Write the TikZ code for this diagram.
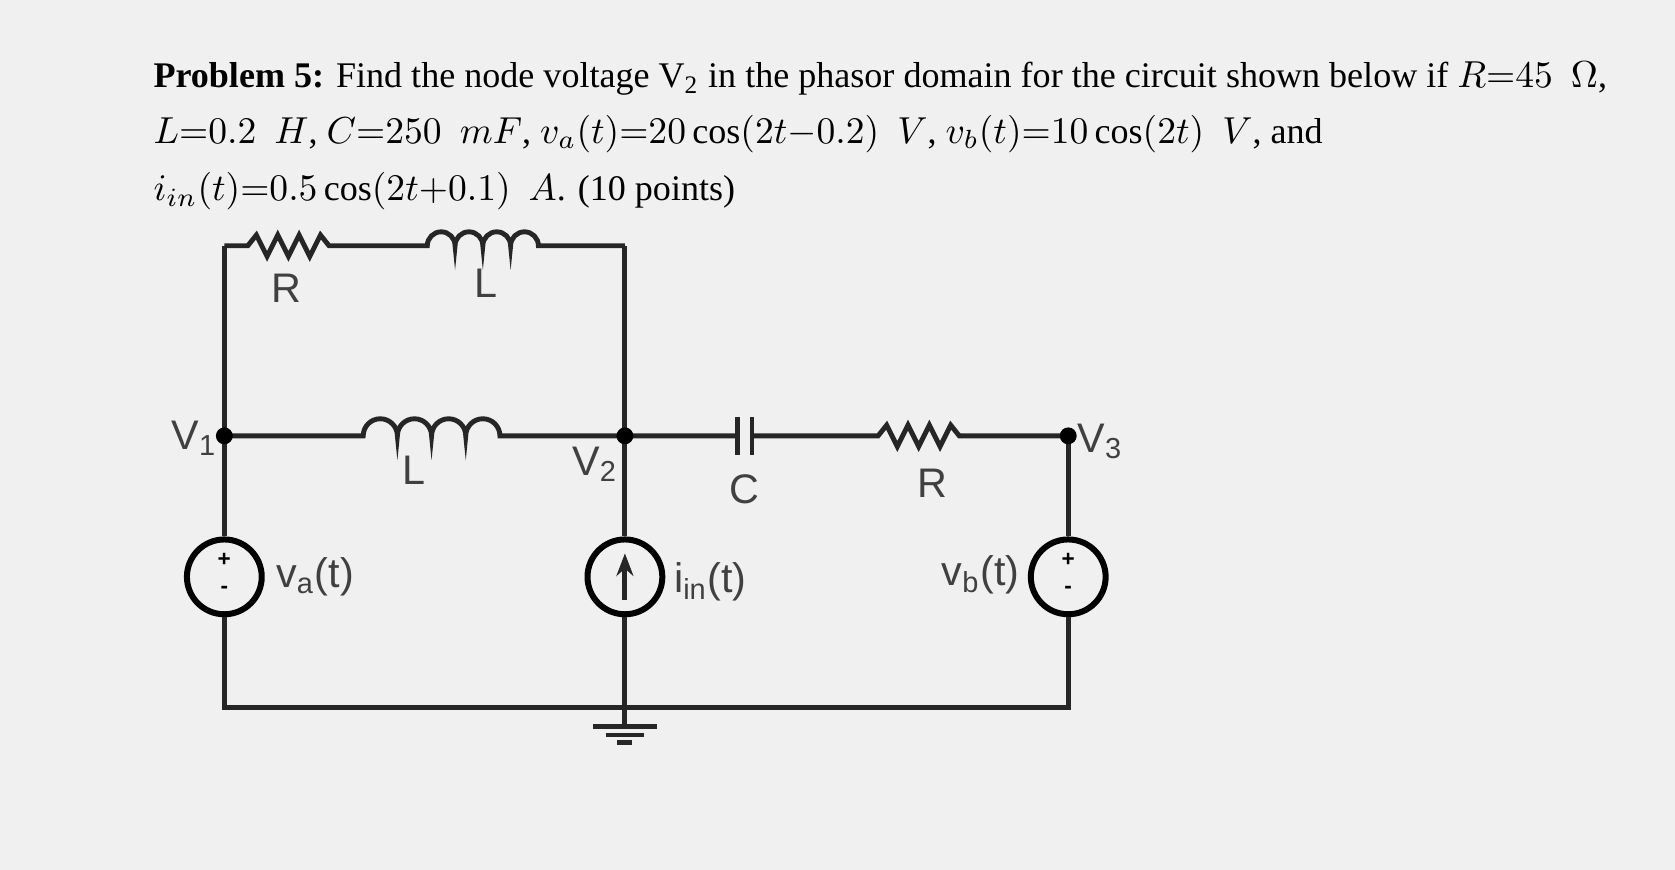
\documentclass[tikz,border=0pt]{standalone}
\usepackage{fontspec}
\usetikzlibrary{arrows.meta}
\setmainfont{Liberation Serif}
\newfontfamily\cf{Liberation Sans}
\begin{document}
\begin{tikzpicture}[x=0.01cm,y=-0.01cm,
  wire/.style={line width=1.3pt,black!85},
  lbl/.style={font=\cf\fontsize{11}{12}\selectfont,text=black!75},
  src/.style={circle,draw,line width=1.6pt,minimum size=0.7cm,inner sep=0},
  dot/.style={circle,fill=black,minimum size=4.5pt,inner sep=0},
  ttl/.style={anchor=base west,font=\fontsize{9.6}{12}\selectfont,inner sep=0}]
\fill[gray!12] (0,0) rectangle (1568,814);
\useasboundingbox (0,0) rectangle (1568,814);
% text
\node[ttl] (t1) at (143,82) {\textbf{Problem 5:} Find the node voltage V\textsubscript{2} in the phasor domain for the circuit shown below if $R{=}45\ \ \Omega$,};
\node[ttl] (t2) at (143,134) {$L{=}0.2\ \ H$, $C{=}250\ \ mF$, $v_a(t){=}20\cos(2t{-}0.2)\ \ V$, $v_b(t){=}10\cos(2t)\ \ V$, and};
\node[ttl] (t3) at (143,188) {$i_{in}(t){=}0.5\cos(2t{+}0.1)\ \ A$. (10 points)};
% coordinates
\coordinate (tl) at (210,230); \coordinate (tm) at (585,230);
\coordinate (v1) at (210,408); \coordinate (v2) at (585,408); \coordinate (v3) at (1000,408);
\coordinate (bl) at (210,662); \coordinate (bm) at (585,662); \coordinate (br) at (1000,662);
\coordinate (gnd) at (585,680);
\node[src] (sa) at (210,540) {};
\node[src] (si) at (585,540) {};
\node[src] (sb) at (1000,540) {};
% top branch
\draw[wire] (tl) -- (232,230) -- (240,220) -- (250,240) -- (260,220) -- (270,240) -- (280,220) -- (290,240) -- (300,220) -- (308,230) -- (400,230)
  arc[start angle=180,end angle=360,radius=13] arc[start angle=180,end angle=360,radius=13] arc[start angle=180,end angle=360,radius=13] arc[start angle=180,end angle=360,radius=13] -- (tm);
\draw[wire] (tl) -- (v1) -- (sa.north);
\draw[wire] (sa.south) -- (bl) -- (bm) -- (br) -- (sb.south);
\draw[wire] (sb.north) -- (v3);
\draw[wire] (tm) -- (v2) -- (si.north);
\draw[wire] (si.south) -- (bm) -- (gnd);
\draw[wire] (555,680) -- (615,680) (567,688) -- (603,688) (578,695) -- (592,695);
% middle branch
\draw[wire] (v1) -- (340,408) arc[start angle=180,end angle=360,radius=16] arc[start angle=180,end angle=360,radius=16] arc[start angle=180,end angle=360,radius=16] arc[start angle=180,end angle=360,radius=16] -- (v2) -- (690,408);
\draw[wire] (690,390) -- (690,426) (704,390) -- (704,426);
\draw[wire] (704,408) -- (822,408) -- (830,398) -- (840,418) -- (850,398) -- (860,418) -- (870,398) -- (880,418) -- (890,398) -- (898,408) -- (v3);
\node[dot] at (v1) {}; \node[dot] at (v2) {}; \node[dot] at (v3) {};
% source marks
\node[font=\cf\bfseries\fontsize{6}{7}\selectfont,inner sep=0] at (210,524) {+};
\node[font=\cf\bfseries\fontsize{6}{7}\selectfont,inner sep=0] at (210,552) {-};
\node[font=\cf\bfseries\fontsize{6}{7}\selectfont,inner sep=0] at (1000,524) {+};
\node[font=\cf\bfseries\fontsize{6}{7}\selectfont,inner sep=0] at (1000,552) {-};
\draw[wire,-{Stealth[length=6pt]}] (585,562) -- (585,518);
% labels
\node[lbl] (lR1) at (268,270) {R};
\node[lbl] (lL1) at (455,265) {L};
\node[lbl] (lV1) at (182,410) {V\textsubscript{1}};
\node[lbl] (lL2) at (388,440) {L};
\node[lbl] (lV2) at (557,435) {V\textsubscript{2}};
\node[lbl] (lC) at (697,458) {C};
\node[lbl] (lR2) at (873,452) {R};
\node[lbl] (lV3) at (1030,413) {V\textsubscript{3}};
\node[lbl] (lva) at (295,540) {v\textsubscript{a}(t)};
\node[lbl] (lii) at (665,545) {i\textsubscript{in}(t)};
\node[lbl] (lvb) at (918,538) {v\textsubscript{b}(t)};
\end{tikzpicture}
\end{document}
